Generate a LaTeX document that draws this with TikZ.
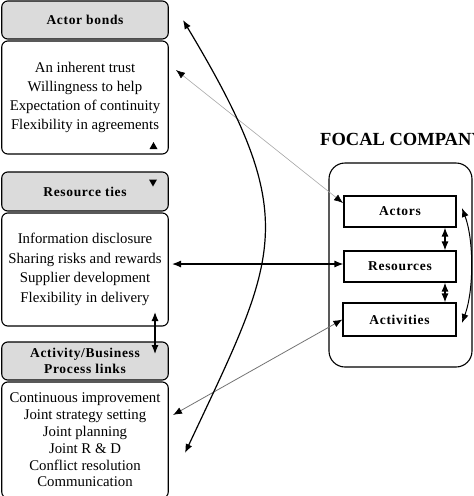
\documentclass[tikz,border=0pt]{standalone}
\usepackage{fontspec}
\setmainfont{Liberation Serif}
\newfontfamily\hdrfam[LetterSpace=5]{Liberation Serif}
\usetikzlibrary{arrows.meta,calc}
\begin{document}
\begin{tikzpicture}[x=1pt,y=-1pt,
  hdrbox/.style={draw=black,line width=1.1pt,rounded corners=6pt,fill=black!14,inner sep=0pt,align=center,font=\hdrfam\bfseries\fontsize{13.5}{16}\selectfont},
  bodybox/.style={draw=black,line width=1.1pt,rounded corners=6pt,fill=white,inner sep=0pt,align=center},
  inbox/.style={draw=black,line width=1.1pt,fill=white,inner sep=0pt,font=\hdrfam\bfseries\fontsize{13.5}{16}\selectfont},
  blk/.style={line width=1.2pt,{Latex[length=9pt,width=7pt]}-{Latex[length=9pt,width=7pt]}},
  gry/.style={line width=0.6pt,draw=black!35,{Latex[length=9pt,width=7pt,color=black]}-{Latex[length=9pt,width=7pt,color=black]}}
]
\useasboundingbox (0,0) rectangle (474,496);
% left column
\node[hdrbox,minimum width=166.5pt,minimum height=38pt] (abh) at (85,20) {Actor bonds};
\node[bodybox,minimum width=166.5pt,minimum height=113pt,font=\fontsize{14.8}{19.3}\selectfont] (abb) at (85,97.5)
  {An inherent trust\\Willingness to help\\Expectation of continuity\\Flexibility in agreements};
\node[hdrbox,minimum width=166.5pt,minimum height=39pt] (rth) at (85,191.5) {Resource ties};
\node[bodybox,minimum width=166.5pt,minimum height=113pt,font=\fontsize{14.8}{19.5}\selectfont] (rtb) at (85,269.5)
  {Information disclosure\\Sharing risks and rewards\\Supplier development\\Flexibility in delivery};
\node[hdrbox,minimum width=166.5pt,minimum height=38pt,font=\hdrfam\bfseries\fontsize{13.5}{16}\selectfont] (aph) at (85,361) {Activity/Business\\Process links};
\node[bodybox,minimum width=166.5pt,minimum height=116pt,font=\fontsize{14.8}{16.8}\selectfont] (apb) at (85,440)
  {Continuous improvement\\Joint strategy setting\\Joint planning\\Joint R \& D\\Conflict resolution\\Communication};
% small triangles
\fill (149.5,149) -- (157.5,149) -- (153.5,142) -- cycle;
\fill (149,179.5) -- (157,179.5) -- (153,186.5) -- cycle;
% focal company
\node[anchor=west,inner sep=0pt,font=\bfseries\fontsize{18.5}{20}\selectfont] (fct) at (320,139.5) {FOCAL COMPANY};
\node[draw=black,line width=1.1pt,rounded corners=16pt,minimum width=143pt,minimum height=204pt,inner sep=0pt] (fc) at (400.5,265) {};
\node[inbox,minimum width=112pt,minimum height=31pt] (act) at (400,211.5) {Actors};
\node[inbox,minimum width=112pt,minimum height=31pt] (res) at (400,266.5) {Resources};
\node[inbox,minimum width=113pt,minimum height=33pt] (acv) at (399.5,319.5) {Activities};
% connector endpoints
\coordinate (g1a) at (343,203);
\coordinate (g1b) at (176,70);
\coordinate (r1) at (172,264);
\coordinate (g3b) at (173,415);
\coordinate (v1) at (155,312);
\coordinate (v2) at (155,354);
\coordinate (c1) at (183,20);
\coordinate (c2) at (185,453);
\coordinate (q1) at (462,208);
\coordinate (q2) at (462,323);
% connectors
\draw[gry] (g1b) -- (g1a);
\draw[blk] (r1) -- (r1 -| res.west);
\draw[gry,draw=black!55,line width=0.8pt] (g3b) -- (acv.west);
\draw[blk] (v1) -- (v2);
\draw[blk] (c1) .. controls (303,220) and (279,253) .. (c2);
\draw[blk] ([xshift=45pt]act.south) -- ([xshift=45pt]res.north);
\draw[blk] ([xshift=45pt]res.south) -- ([xshift=45.5pt]acv.north);
\draw[blk,line width=1pt] (q1) .. controls (474,240) and (474,290) .. (q2);
\end{tikzpicture}
\end{document}
